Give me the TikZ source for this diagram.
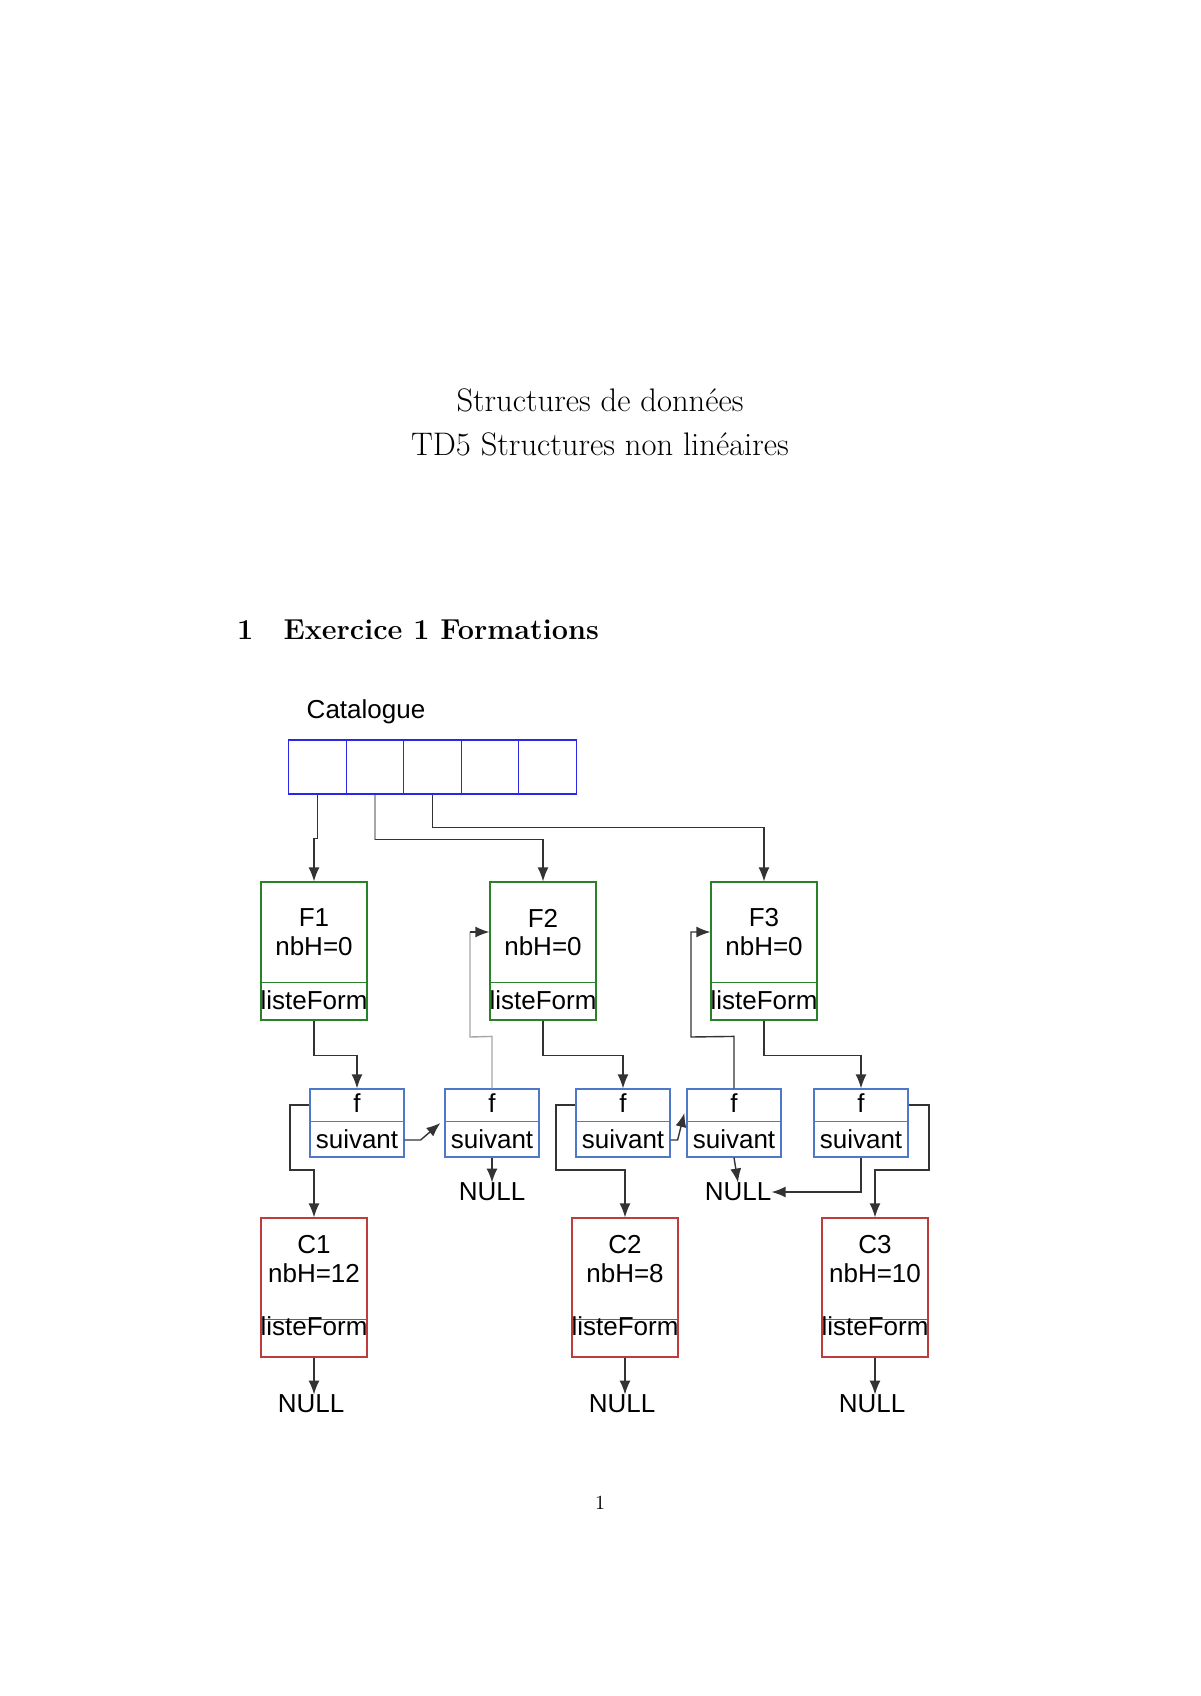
\documentclass[tikz,border=0pt]{standalone}
\usepackage{fontspec}
\newfontfamily\diag{Liberation Sans}
\usetikzlibrary{arrows.meta,calc}
\definecolor{fg}{RGB}{40,130,40}
\definecolor{cb}{RGB}{80,120,200}
\definecolor{cr}{RGB}{190,60,60}
\definecolor{arr}{RGB}{40,40,230}
\begin{document}
\begin{tikzpicture}[x=0.5pt,y=-0.5pt,
  lbl/.style={font=\diag\fontsize{13}{15}\selectfont,inner sep=0pt},
  fbox/.style={draw=fg,line width=0.6pt,minimum width=53pt,minimum height=69pt,inner sep=0pt},
  sbox/.style={draw=cb,line width=0.6pt,minimum width=47pt,minimum height=34pt,inner sep=0pt},
  cbox/.style={draw=cr,line width=0.6pt,minimum width=53pt,minimum height=69.5pt,inner sep=0pt},
  cell/.style={draw=arr,line width=0.6pt,minimum width=28.7pt,minimum height=27pt,inner sep=0pt},
  con/.style={draw=black!80,line width=0.7pt,-{Latex[length=7pt,width=5.5pt]}},
  gcon/.style={draw=black!35,line width=0.7pt}]
\useasboundingbox (0,0) rectangle (1200,1696);
\node[font=\fontsize{16.3}{19}\selectfont] (t1) at (600,400) {Structures de données};
\node[font=\fontsize{16.3}{19}\selectfont] (t2) at (600,444) {TD5 Structures non linéaires};
\node[font=\Large\bfseries,anchor=west] (s1) at (230,630) {1\hspace{1.05em}Exercice 1 Formations};
\node (pg) at (600,1503) {1};
\begin{scope}[yshift=4pt]
\node[lbl] (cat) at (366,720) {Catalogue};
\foreach \i/\x in {1/317.5,2/375,3/432.5,4/490,5/547.5}
  \node[cell] (c\i) at (\x,775) {};
\foreach \n/\x in {F1/314,F2/543,F3/764}{
  \node[fbox] (\n) at (\x,959) {};
  \draw[fg,line width=0.6pt] ([yshift=-50.5pt]\n.north west) -- ([yshift=-50.5pt]\n.north east);
  \node[lbl] (\n t) at (\x,926) {\n};
  \node[lbl] (\n n) at (\x,954) {nbH=0};
  \node[lbl] (\n l) at (\x,1008) {listeForm};
}
\foreach \n/\x/\v in {C1/314/12,C2/625/8,C3/875/10}{
  \node[cbox] (\n) at (\x,1295.5) {};
  \draw[cr,line width=0.6pt] ([yshift=-51pt]\n.north west) -- ([yshift=-51pt]\n.north east);
  \node[lbl] (\n t) at (\x,1253) {\n};
  \node[lbl] (\n n) at (\x,1281) {nbH=\v};
  \node[lbl] (\n l) at (\x,1334) {listeForm};
  \node[lbl] (\n z) at (\x-3,1412) {NULL};
  \draw[con] (\n.south) -- (\n.south|-\n z.north);
}
\foreach \n/\x in {b1/357,b2/492,b3/623,b4/734,b5/861}{
  \node[sbox] (\n) at (\x,1131) {};
  \draw[cb,line width=0.6pt] ([yshift=-16.5pt]\n.north west) -- ([yshift=-16.5pt]\n.north east);
  \node[lbl] (\n f) at (\x,1111) {f};
  \node[lbl] (\n s) at (\x,1147) {suivant};
}
\node[lbl] (n2) at (492,1200) {NULL};
\node[lbl] (n4) at (738,1200) {NULL};
\coordinate (b1e) at ($(b1.east)+(0,17)$);
\coordinate (b2w) at ($(b2.west)+(-4,0)$);
\coordinate (b3e) at ($(b3.east)+(0,17)$);
\coordinate (b4w) at ($(b4.west)+(-2,-10)$);
\draw[con] (c1.south) -- ++(0,44) -| (F1.north);
\draw[gcon] (c2.south) -- ++(0,45);
\draw[con] ($(c2.south)+(0,45)$) -| (F2.north);
\draw[con] (c3.south) -- ++(0,33) -| (F3.north);
\draw[con] (F1.south) -- ++(0,35) -| (b1.north);
\draw[con] (F2.south) -- ++(0,35) -| (b3.north);
\draw[con] (F3.south) -- ++(0,35) -| (b5.north);
\draw[con] (b1.west|-0,1113) -- (290,1113) -- (290,1178) -| (C1.north);
\draw[con] (b3.west|-0,1113) -- (556,1113) -- (556,1178) -| (C2.north);
\draw[con] (b5.east|-0,1113) -- (929,1113) -- (929,1178) -| (C3.north);
\draw[gcon] (b2.north) -- ++(0,-52) -- (470,1045) -- (470,940);
\draw[con] (470,940) -- (F2.west|-470,940);
\draw[con] (b4.north) -- ++(0,-52) -- (691,1045) -- (691,940) -- (F3.west|-691,940);
\draw[con] (b1e) -- ++(16,0) -- (b2w);
\draw[con] (b3e) -- ++(7,0) -- (b4w);
\draw[con] (b2.south) -- (n2.north);
\draw[con] (b4.south) -- (n4.north);
\draw[con] (b5.south) -- (b5.south|-0,1200) -- (n4.east|-0,1200);
\end{scope}
\end{tikzpicture}
\end{document}
